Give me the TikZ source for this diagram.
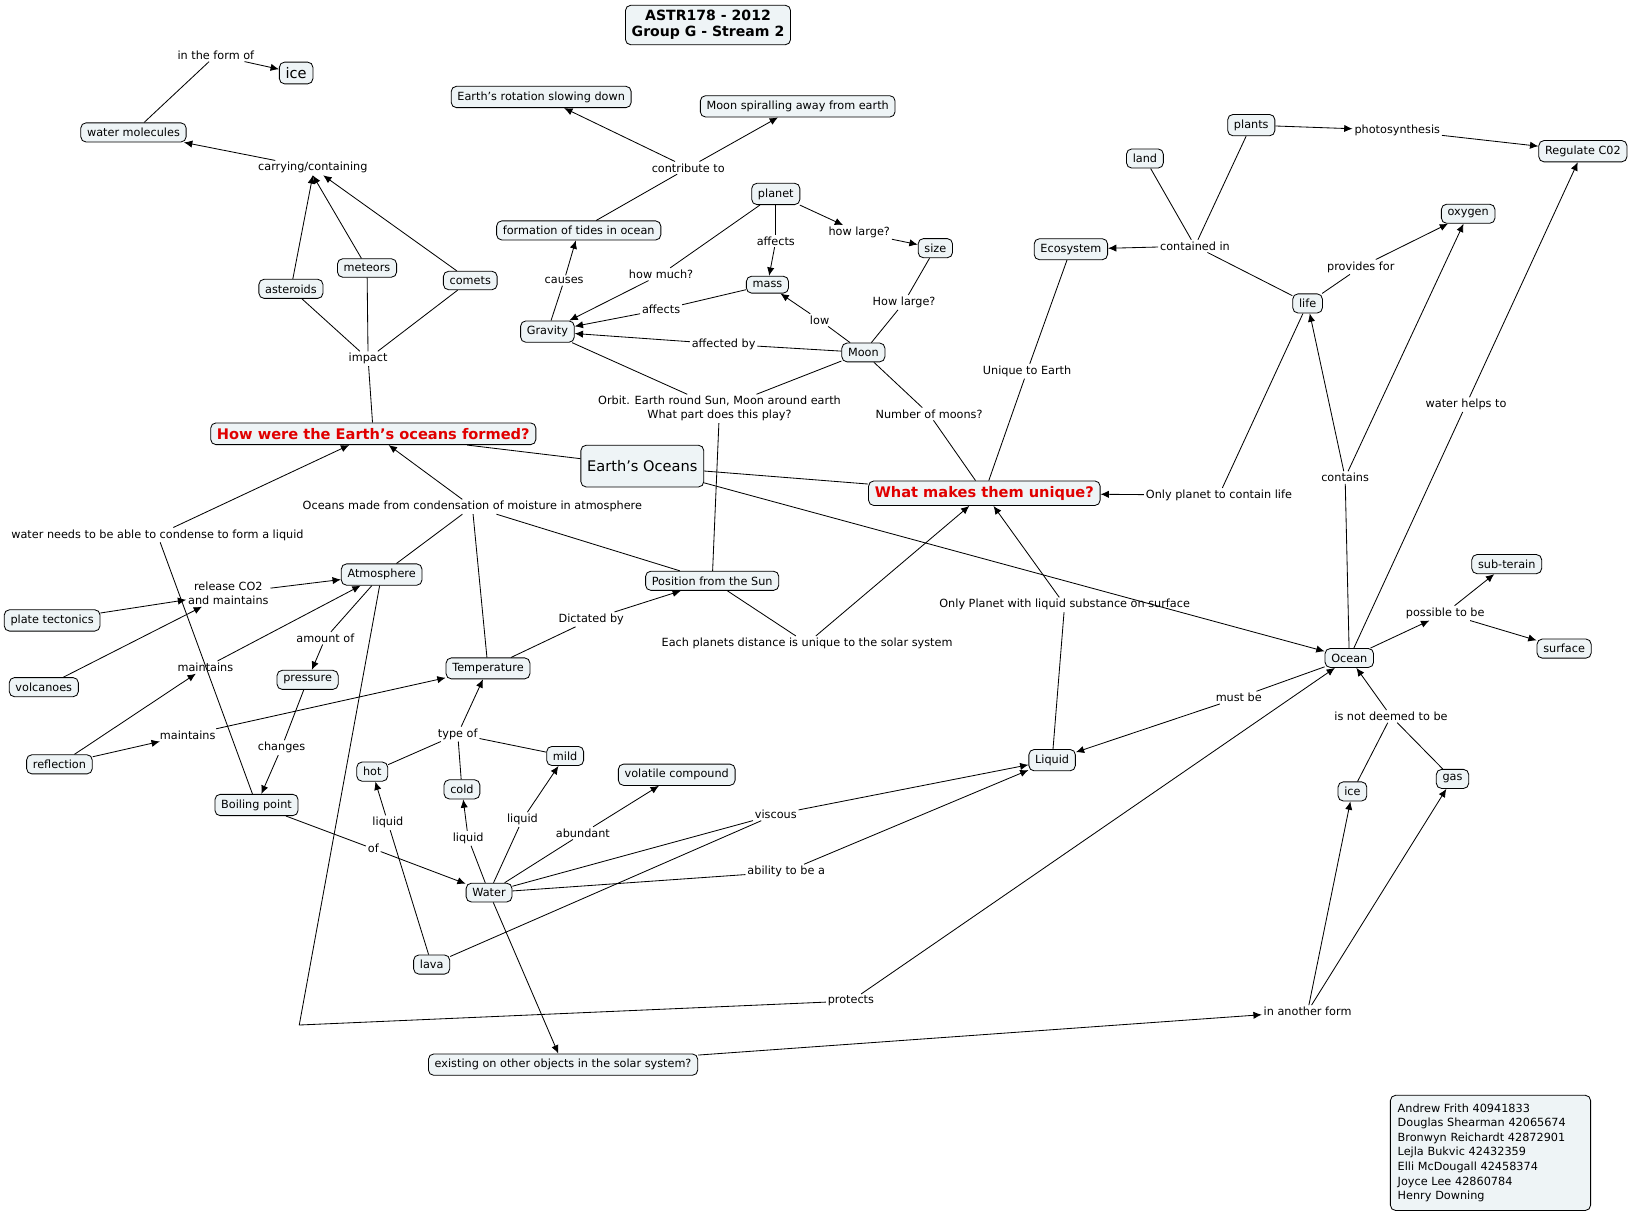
\documentclass[tikz,border=0pt]{standalone}
\usepackage{fontspec}
\setmainfont{DejaVu Sans}
\usetikzlibrary{arrows.meta}
\definecolor{boxfill}{HTML}{EEF4F6}
\definecolor{hred}{HTML}{E00000}
\begin{document}
\begin{tikzpicture}[x=1pt,y=-1pt,
  every node/.style={font=\fontsize{10.8}{13.5}\selectfont},
  box/.style={draw,rounded corners=5pt,fill=boxfill,inner xsep=6pt,inner ysep=5pt,line width=0.8pt},
  big/.style={box,font=\fontsize{14}{16}\selectfont},
  hot/.style={box,font=\bfseries\fontsize{14}{16}\selectfont,text=hred},
  lab/.style={inner sep=1.5pt,align=center},
  every path/.style={line width=0.8pt},
  ar/.style={-{Latex[length=8pt,width=7pt]}}]
\useasboundingbox (0,0) rectangle (1568,1175);
% concepts
\node[box,font=\bfseries\fontsize{13.5}{15}\selectfont,align=center] (title) at (679,24) {ASTR178 - 2012\\Group G - Stream 2};
\node[big] (ice1) at (284,70) {ice};
\node[box] (watermol) at (128,127) {water molecules};
\node[box] (earthrot) at (519,93) {Earth's rotation slowing down};
\node[box] (moonspiral) at (765,102) {Moon spiralling away from earth};
\node[box] (tides) at (555,221) {formation of tides in ocean};
\node[box] (planet) at (744,186) {planet};
\node[box] (size) at (897,238) {size};
\node[box] (mass) at (736,273) {mass};
\node[box] (gravity) at (525,318) {Gravity};
\node[box] (moon) at (828,338) {Moon};
\node[box] (asteroids) at (279,277) {asteroids};
\node[box] (meteors) at (352,257) {meteors};
\node[box] (comets) at (451,269) {comets};
\node[hot] (how) at (358,416) {How were the Earth's oceans formed?};
\node[big,minimum height=40] (oceans) at (616,447) {Earth's Oceans};
\node[hot] (unique) at (944,473) {What makes them unique?};
\node[box] (ecosystem) at (1027,239) {Ecosystem};
\node[box] (land) at (1098,152) {land};
\node[box] (plants) at (1200,120) {plants};
\node[box] (regulate) at (1518,145) {Regulate C02};
\node[box] (oxygen) at (1408,205) {oxygen};
\node[box] (life) at (1254,291) {life};
\node[box] (atmosphere) at (366,551) {Atmosphere};
\node[box] (position) at (683,557) {Position from the Sun};
\node[box] (platetect) at (50,595) {plate tectonics};
\node[box] (volcanoes) at (42,659) {volcanoes};
\node[box] (pressure) at (295,652) {pressure};
\node[box] (temperature) at (468,641) {Temperature};
\node[box] (reflection) at (57,733) {reflection};
\node[box] (hot) at (357,740) {hot};
\node[box] (cold) at (443,757) {cold};
\node[box] (mild) at (542,725) {mild};
\node[box] (volatile) at (649,743) {volatile compound};
\node[box] (boiling) at (246,772) {Boiling point};
\node[box] (water) at (469,856) {Water};
\node[box] (lava) at (414,925) {lava};
\node[box] (liquid) at (1009,729) {Liquid};
\node[box] (existing) at (540,1021) {existing on other objects in the solar system?};
\node[box] (ocean) at (1294,631) {Ocean};
\node[box] (subterain) at (1445,541) {sub-terain};
\node[box] (surface) at (1500,622) {surface};
\node[box] (ice2) at (1297,759) {ice};
\node[box] (gas) at (1393,747) {gas};
\node[box,anchor=north west,align=left,text width=178pt,inner xsep=7pt,inner ysep=8pt,font=\fontsize{10.8}{14}\selectfont] (authors) at (1333,1050)
 {Andrew Frith 40941833\\Douglas Shearman 42065674\\Bronwyn Reichardt 42872901\\Lejla Bukvic 42432359\\Elli McDougall 42458374\\Joyce Lee 42860784\\Henry Downing\\[4pt]};
% linking phrases
\node[lab] (informof) at (207,53) {in the form of};
\node[lab] (carrying) at (300,161) {carrying/containing};
\node[lab] (contribute) at (660,161) {contribute to};
\node[lab] (affects1) at (744,231) {affects};
\node[lab] (howlarge1) at (824,223) {how large?};
\node[lab] (howmuch) at (634,263) {how much?};
\node[lab] (causes) at (541,269) {causes};
\node[lab] (affects2) at (634,297) {affects};
\node[lab] (low) at (786,307) {low};
\node[lab] (howlarge2) at (867,290) {How large?};
\node[lab] (affectedby) at (694,330) {affected by};
\node[lab] (impact) at (353,344) {impact};
\node[lab] (orbit) at (690,392) {Orbit. Earth round Sun, Moon around earth\\What part does this play?};
\node[lab] (nummoons) at (891,397) {Number of moons?};
\node[lab] (uniqueearth) at (985,356) {Unique to Earth};
\node[lab] (containedin) at (1146,236) {contained in};
\node[lab] (photosyn) at (1340,125) {photosynthesis};
\node[lab] (providesfor) at (1305,256) {provides for};
\node[lab] (waterhelps) at (1406,388) {water helps to};
\node[lab] (onlyplanet) at (1169,475) {Only planet to contain life};
\node[lab] (contains) at (1290,458) {contains};
\node[lab] (oceansmade) at (453,486) {Oceans made from condensation of moisture in atmosphere};
\node[lab] (waterneeds) at (151,513) {water needs to be able to condense to form a liquid};
\node[lab] (releaseco2) at (219,569) {release CO2\\and maintains};
\node[lab] (amountof) at (312,612) {amount of};
\node[lab] (maintains1) at (197,640) {maintains};
\node[lab] (dictated) at (567,594) {Dictated by};
\node[lab] (eachplanet) at (774,617) {Each planets distance is unique to the solar system};
\node[lab] (onlyliquid) at (1021,580) {Only Planet with liquid substance on surface};
\node[lab] (possible) at (1386,588) {possible to be};
\node[lab] (mustbe) at (1188,669) {must be};
\node[lab] (notdeemed) at (1334,687) {is not deemed to be};
\node[lab] (typeof) at (439,704) {type of};
\node[lab] (maintains2) at (180,705) {maintains};
\node[lab] (changes) at (270,717) {changes};
\node[lab] (viscous) at (744,781) {viscous};
\node[lab] (liqhot) at (372,789) {liquid};
\node[lab] (liqcold) at (449,804) {liquid};
\node[lab] (liqmild) at (501,786) {liquid};
\node[lab] (abundant) at (559,799) {abundant};
\node[lab] (of) at (358,814) {of};
\node[lab] (abilityto) at (754,836) {ability to be a};
\node[lab] (protects) at (816,960) {protects};
\node[lab] (inanother) at (1254,970) {in another form};
\coordinate (corner) at (287,983);
% connectors
\draw (watermol) -- (informof); \draw[ar] (informof) -- (ice1);
\draw[ar] (carrying) -- (watermol);
\draw[ar] (asteroids) -- (carrying.south);
\draw[ar] (meteors) -- (carrying.south);
\draw[ar] (comets) -- (carrying);
\draw (asteroids) -- (impact); \draw (meteors) -- (impact); \draw (comets) -- (impact);
\draw (impact) -- (how);
\draw (tides) -- (contribute); \draw[ar] (contribute) -- (earthrot); \draw[ar] (contribute) -- (moonspiral);
\draw (gravity) -- (causes); \draw[ar] (causes) -- (tides);
\draw (planet) -- (affects1); \draw[ar] (affects1) -- (mass);
\draw[ar] (planet) -- (howlarge1); \draw[ar] (howlarge1) -- (size);
\draw (planet) -- (howmuch); \draw[ar] (howmuch) -- (gravity);
\draw (mass) -- (affects2); \draw[ar] (affects2) -- (gravity);
\draw (moon) -- (low); \draw[ar] (low) -- (mass);
\draw (moon) -- (howlarge2); \draw (howlarge2) -- (size);
\draw (moon) -- (affectedby); \draw[ar] (affectedby) -- (gravity);
\draw (gravity) -- (orbit); \draw (moon) -- (orbit); \draw (orbit) -- (position);
\draw (moon) -- (nummoons); \draw (nummoons) -- (unique);
\draw (oceans) -- (how); \draw (oceans) -- (unique); \draw[ar] (oceans) -- (ocean);
\draw (ecosystem) -- (uniqueearth); \draw (uniqueearth) -- (unique);
\draw (land) -- (containedin); \draw (plants) -- (containedin); \draw (life) -- (containedin);
\draw[ar] (containedin) -- (ecosystem);
\draw[ar] (plants) -- (photosyn); \draw[ar] (photosyn) -- (regulate);
\draw (life) -- (providesfor); \draw[ar] (providesfor) -- (oxygen);
\draw (ocean) -- (waterhelps); \draw[ar] (waterhelps) -- (regulate);
\draw (ocean) -- (contains); \draw[ar] (contains) -- (life); \draw[ar] (contains) -- (oxygen);
\draw (life) -- (onlyplanet); \draw[ar] (onlyplanet) -- (unique);
\draw (atmosphere) -- (oceansmade); \draw (temperature) -- (oceansmade); \draw (position) -- (oceansmade);
\draw[ar] (oceansmade) -- (how);
\draw (boiling) -- (waterneeds); \draw[ar] (waterneeds) -- (how);
\draw[ar] (platetect) -- (releaseco2); \draw[ar] (volcanoes) -- (releaseco2); \draw[ar] (releaseco2) -- (atmosphere);
\draw[ar] (reflection) -- (maintains1); \draw[ar] (maintains1) -- (atmosphere);
\draw[ar] (reflection) -- (maintains2); \draw[ar] (maintains2) -- (temperature);
\draw (atmosphere) -- (amountof); \draw[ar] (amountof) -- (pressure);
\draw (pressure) -- (changes); \draw[ar] (changes) -- (boiling);
\draw (atmosphere) -- (corner) -- (protects); \draw[ar] (protects) -- (ocean);
\draw (temperature) -- (dictated); \draw[ar] (dictated) -- (position);
\draw (position) -- (eachplanet); \draw[ar] (eachplanet) -- (unique);
\draw (liquid) -- (onlyliquid); \draw[ar] (onlyliquid) -- (unique);
\draw[ar] (typeof) -- (temperature);
\draw (hot) -- (typeof); \draw (cold) -- (typeof); \draw (mild) -- (typeof);
\draw (lava) -- (liqhot); \draw[ar] (liqhot) -- (hot);
\draw (water) -- (liqcold); \draw[ar] (liqcold) -- (cold);
\draw (water) -- (liqmild); \draw[ar] (liqmild) -- (mild);
\draw (water) -- (abundant); \draw[ar] (abundant) -- (volatile);
\draw (water) -- (viscous); \draw (lava) -- (viscous); \draw[ar] (viscous) -- (liquid);
\draw (water) -- (abilityto); \draw[ar] (abilityto) -- (liquid);
\draw (boiling) -- (of); \draw[ar] (of) -- (water);
\draw[ar] (water) -- (existing);
\draw[ar] (existing) -- (inanother); \draw[ar] (inanother) -- (ice2); \draw[ar] (inanother) -- (gas);
\draw[ar] (ocean) -- (possible); \draw[ar] (possible) -- (subterain); \draw[ar] (possible) -- (surface);
\draw (ice2) -- (notdeemed); \draw (gas) -- (notdeemed); \draw[ar] (notdeemed) -- (ocean);
\draw (ocean) -- (mustbe); \draw[ar] (mustbe) -- (liquid);
\end{tikzpicture}
\end{document}
